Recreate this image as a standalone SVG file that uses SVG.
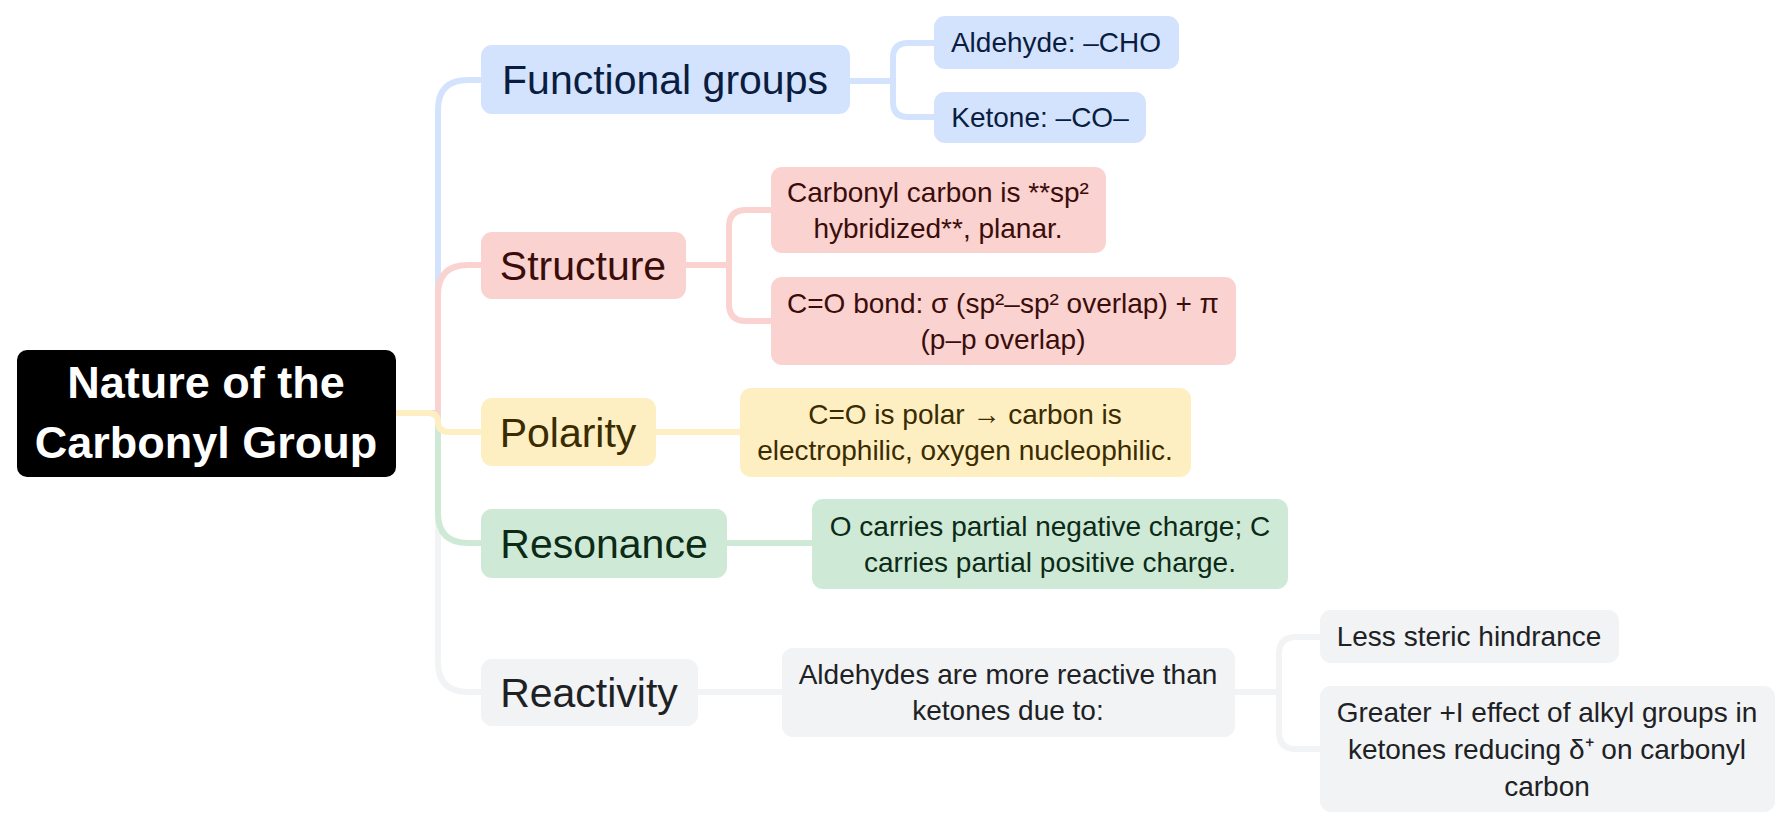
<svg xmlns="http://www.w3.org/2000/svg" width="1790" height="827" viewBox="0 0 1790 827">
<style>
text{font-family:"Liberation Sans",Arial,sans-serif;text-anchor:middle}
.l1{font-size:41px}
.l2{font-size:28px}
.root{font-size:45px;font-weight:bold;fill:#ffffff}
.c{fill:none;stroke-width:6;stroke-linecap:round;stroke-linejoin:round}
.bl{fill:#d3e3fd}.blt{fill:#0a1d40}.blc{stroke:#d3e3fd}
.pk{fill:#fad2cf}.pkt{fill:#3a0d0b}.pkc{stroke:#fad2cf}
.yl{fill:#feefc3}.ylt{fill:#3a2c00}.ylc{stroke:#feefc3}
.gn{fill:#ceead6}.gnt{fill:#0c2a16}.gnc{stroke:#ceead6}
.gy{fill:#f1f3f4}.gyt{fill:#202124}.gyc{stroke:#f1f3f4}
</style>
<rect width="1790" height="827" fill="#ffffff"/>
<g id="connectors">
<path class="c blc" d="M396,413 H438 V110 Q438,80 468,80 H482"/>
<path class="c gyc" d="M396,413 H438 V662 Q438,692 468,692 H482"/>
<path class="c gnc" d="M396,413 H438 V513 Q438,543 468,543 H482"/>
<path class="c pkc" d="M396,413 H438 V295 Q438,265 468,265 H482"/>
<path class="c ylc" d="M396,413 H428 Q438,413 438,422 Q438,432 450,432 H482"/>
<path class="c blc" d="M849,81 H893 M908,43 Q893,43 893,58 V102 Q893,117 908,117 H934 M908,43 H934"/>
<path class="c pkc" d="M686,265 H729 M746,210 Q729,210 729,227 V304 Q729,321 746,321 H771 M746,210 H771"/>
<path class="c ylc" d="M656,432 H740"/>
<path class="c gnc" d="M727,543 H812"/>
<path class="c gyc" d="M698,692 H782"/>
<path class="c gyc" d="M1235,692 H1279 M1296,637 Q1279,637 1279,654 V732 Q1279,749 1296,749 H1320 M1296,637 H1320"/>
</g>
<g id="root">
<rect x="17" y="350" width="379" height="127" rx="10" fill="#000000"/>
<text class="root" x="206" y="398">Nature of the</text>
<text class="root" x="206" y="458">Carbonyl Group</text>
</g>
<g id="functional-groups">
<rect class="bl" x="481" y="45" width="369" height="69" rx="11"/>
<text class="l1 blt" x="665" y="94">Functional groups</text>
</g>
<g id="aldehyde">
<rect class="bl" x="934" y="16" width="245" height="53" rx="11"/>
<text class="l2 blt" x="1056" y="52">Aldehyde: –CHO</text>
</g>
<g id="ketone">
<rect class="bl" x="934" y="92" width="212" height="51" rx="11"/>
<text class="l2 blt" x="1040" y="127">Ketone: –CO–</text>
</g>
<g id="structure">
<rect class="pk" x="481" y="232" width="205" height="67" rx="11"/>
<text class="l1 pkt" x="583" y="280">Structure</text>
</g>
<g id="carbonyl-carbon">
<rect class="pk" x="771" y="167" width="335" height="86" rx="11"/>
<text class="l2 pkt" x="938" y="202">Carbonyl carbon is **sp²</text>
<text class="l2 pkt" x="938" y="238">hybridized**, planar.</text>
</g>
<g id="co-bond">
<rect class="pk" x="771" y="277" width="465" height="88" rx="11"/>
<text class="l2 pkt" x="1003" y="313">C=O bond: σ (sp²–sp² overlap) + π</text>
<text class="l2 pkt" x="1003" y="349">(p–p overlap)</text>
</g>
<g id="polarity">
<rect class="yl" x="481" y="398" width="175" height="68" rx="11"/>
<text class="l1 ylt" x="568" y="447">Polarity</text>
</g>
<g id="co-polar">
<rect class="yl" x="740" y="388" width="451" height="89" rx="11"/>
<text class="l2 ylt" x="965" y="424">C=O is polar → carbon is</text>
<text class="l2 ylt" x="965" y="460">electrophilic, oxygen nucleophilic.</text>
</g>
<g id="resonance">
<rect class="gn" x="481" y="509" width="246" height="69" rx="11"/>
<text class="l1 gnt" x="604" y="558">Resonance</text>
</g>
<g id="o-carries">
<rect class="gn" x="812" y="499" width="476" height="90" rx="11"/>
<text class="l2 gnt" x="1050" y="536">O carries partial negative charge; C</text>
<text class="l2 gnt" x="1050" y="572">carries partial positive charge.</text>
</g>
<g id="reactivity">
<rect class="gy" x="481" y="659" width="217" height="67" rx="11"/>
<text class="l1 gyt" x="589" y="707">Reactivity</text>
</g>
<g id="aldehydes-reactive">
<rect class="gy" x="782" y="648" width="453" height="89" rx="11"/>
<text class="l2 gyt" x="1008" y="684">Aldehydes are more reactive than</text>
<text class="l2 gyt" x="1008" y="720">ketones due to:</text>
</g>
<g id="less-steric">
<rect class="gy" x="1320" y="610" width="299" height="53" rx="11"/>
<text class="l2 gyt" x="1469" y="646">Less steric hindrance</text>
</g>
<g id="greater-i">
<rect class="gy" x="1320" y="686" width="455" height="126" rx="11"/>
<text class="l2 gyt" x="1547" y="722">Greater +I effect of alkyl groups in</text>
<text class="l2 gyt" x="1547" y="759">ketones reducing δ⁺ on carbonyl</text>
<text class="l2 gyt" x="1547" y="796">carbon</text>
</g>
</svg>
